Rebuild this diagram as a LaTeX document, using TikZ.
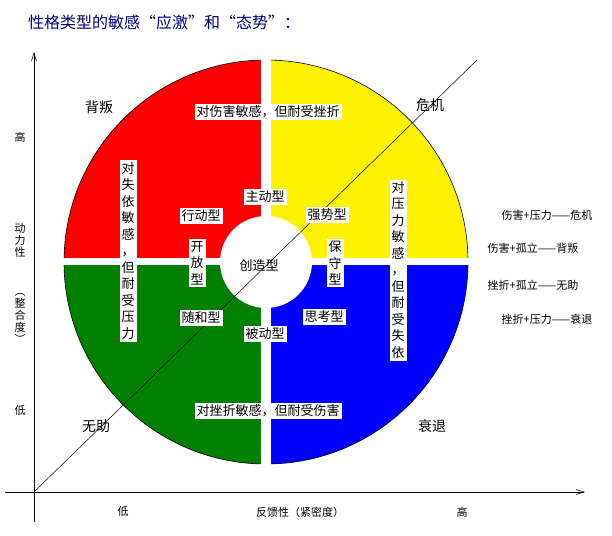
\documentclass[tikz,border=0pt]{standalone}
\usepackage{fontspec}
\setmainfont{Noto Sans CJK SC}
\usetikzlibrary{arrows.meta}
\begin{document}
\begin{tikzpicture}[x=1pt,y=-1pt,
  wbox/.style={fill=white,inner sep=2pt,font=\fontsize{13}{14}\selectfont},
  vbox/.style={fill=white,inner sep=2pt,align=center,font=\fontsize{13}{16.5}\selectfont},
  lbl/.style={inner sep=1pt,font=\fontsize{14}{15}\selectfont},
  sml/.style={inner sep=1pt,font=\fontsize{11}{13}\selectfont}]
\useasboundingbox (0,0) rectangle (612,535);
\fill[white] (0,0) rectangle (612,535);
\coordinate (c) at (266,262);
\def\R{202}
\fill[red] (c) -- ++(-\R,0) arc[start angle=180,end angle=270,radius=\R] -- cycle;
\fill[yellow] (c) -- ++(0,-\R) arc[start angle=270,end angle=360,radius=\R] -- cycle;
\fill[blue] (c) -- ++(\R,0) arc[start angle=0,end angle=90,radius=\R] -- cycle;
\fill[green!50!black] (c) -- ++(0,\R) arc[start angle=90,end angle=180,radius=\R] -- cycle;
\draw[black,line width=0.6pt] (c) circle[radius=\R];
\fill[white] (261,40) rectangle (271,480);
\fill[white] (40,258) rectangle (490,265);
\fill[white] (c) circle[radius=46];
% axes
\coordinate (o) at (34,492);
\coordinate (ytop) at (34,52);
\coordinate (xend) at (585,492);
\coordinate (yb) at (34,522);
\coordinate (xb) at (5,492);
\coordinate (dend) at (477,60);
\draw[line width=0.6pt,-{Straight Barb[length=8pt,width=5pt]}] (yb) -- (ytop);
\draw[line width=0.6pt,-{Straight Barb[length=8pt,width=5pt]}] (xb) -- (xend);
\draw[line width=0.5pt] (o) -- (dend);
% title
\node[anchor=west,inner sep=0,font=\fontsize{16}{18}\selectfont,text=blue!50!black] (title) at (28,22) {性格类型的敏感“应激”和“态势”：};
% boxes
\node[wbox] (t1) at (268,112) {对伤害敏感，但耐受挫折};
\node[wbox] (t2) at (268,411) {对挫折敏感，但耐受伤害};
\node[vbox] (t3) at (128,251) {对\\失\\依\\敏\\感\\，\\但\\耐\\受\\压\\力};
\node[vbox] (t4) at (398,270) {对\\压\\力\\敏\\感\\，\\但\\耐\\受\\失\\依};
\node[wbox] (a1) at (265,197) {主动型};
\node[wbox] (a2) at (201,216) {行动型};
\node[wbox] (a3) at (327,215) {强势型};
\node[vbox] (a4) at (197,263) {开\\放\\型};
\node[vbox] (a5) at (335,263) {保\\守\\型};
\node[wbox,fill=none] (a6) at (259,266) {创造型};
\node[wbox] (a7) at (201,318) {随和型};
\node[wbox] (a8) at (265,334) {被动型};
\node[wbox] (a9) at (324,317) {思考型};
% quadrant labels
\node[lbl] (q1) at (99,107) {背叛};
\node[lbl] (q2) at (430,105) {危机};
\node[lbl] (q3) at (96,426) {无助};
\node[lbl] (q4) at (432,426) {衰退};
% axis labels
\node[sml] (h1) at (20,137) {高};
\node[sml,align=center,font=\fontsize{11}{12}\selectfont] (h2) at (20,240) {动\\力\\性};
\node[sml,align=center,font=\fontsize{11}{12}\selectfont] (h3) at (20,318) {︵\\整\\合\\度\\︶};
\node[sml] (h4) at (20,410) {低};
\node[sml] (b1) at (123,511) {低};
\node[sml] (b2) at (300,512) {反馈性（紧密度）};
\node[sml] (b3) at (462,512) {高};
% right legend
\node[sml] (r1) at (547,215) {伤害+压力——危机};
\node[sml] (r2) at (533,248) {伤害+孤立——背叛};
\node[sml] (r3) at (533,285) {挫折+孤立——无助};
\node[sml] (r4) at (547,319) {挫折+压力——衰退};
\end{tikzpicture}
\end{document}
